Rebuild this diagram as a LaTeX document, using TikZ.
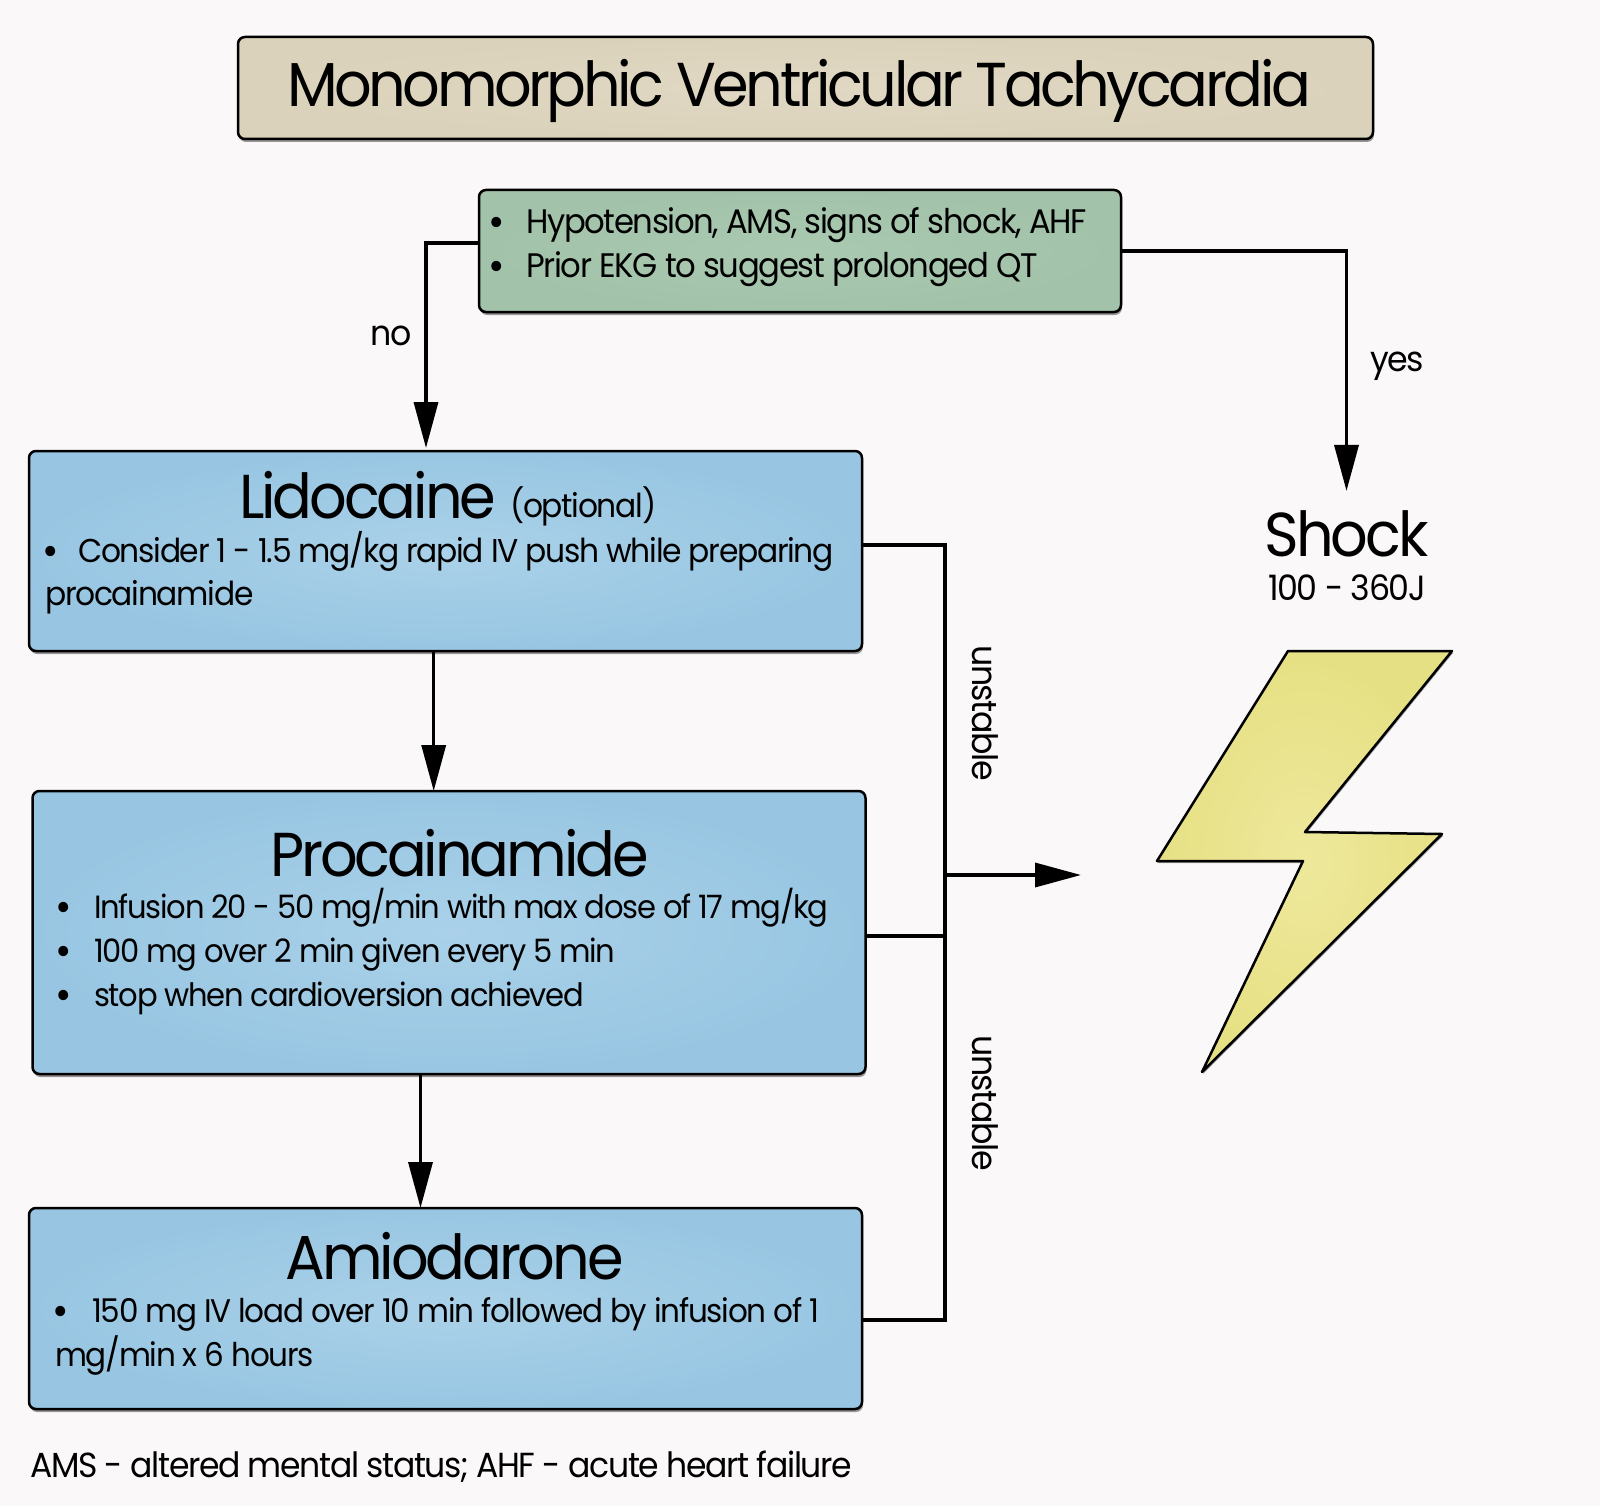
\documentclass[tikz,border=0pt]{standalone}
\usepackage{fontspec}
\usetikzlibrary{arrows.meta,shadows}
\setmainfont[LetterSpace=-4,FakeStretch=0.95]{Poppins}
\newfontfamily\headFont[LetterSpace=-5,FakeStretch=0.95]{Poppins}
\newfontfamily\titleFont[LetterSpace=-5.6,FakeStretch=0.95]{Poppins}
\definecolor{pageBg}{HTML}{FAF8F8}
\definecolor{boxBlueIn}{HTML}{AAD1E9}
\definecolor{boxBlueOut}{HTML}{98C6E2}
\definecolor{boxTanIn}{HTML}{E0D8C3}
\definecolor{boxTanOut}{HTML}{DAD2BA}
\definecolor{boxGreenIn}{HTML}{A9C9B1}
\definecolor{boxGreenOut}{HTML}{A2C2AA}
\definecolor{boltIn}{HTML}{EEE89C}
\definecolor{boltOut}{HTML}{E6E084}
\newcommand{\pBullet}[1]{\makebox[#1pt][l]{\raisebox{-3pt}{\hspace{-1.5pt}\fontsize{42}{42}\selectfont\textbullet}}}
\newcommand{\pSize}[1]{\fontsize{#1}{#1}\selectfont}
\tikzset{
  chartbox/.style={draw=black, line width=2.5pt, rounded corners=7pt, inner sep=0pt, outer sep=0pt,
    drop shadow={shadow xshift=1pt, shadow yshift=-3pt, fill=black, opacity=0.4}},
  bluebox/.style={chartbox, inner color=boxBlueIn, outer color=boxBlueOut},
  link/.style={draw=black, line width=3.5pt},
  arrowlink/.style={link, -{Triangle[length=46pt,width=24pt]}},
  headtext/.style={anchor=base, inner sep=0pt, font=\headFont\pSize{62}},
  linetext/.style={anchor=base west, inner sep=0pt, font=\pSize{33}},
  sidetext/.style={anchor=base west, inner sep=0pt, font=\pSize{35}, rotate=-90},
}
\begin{document}
\begin{tikzpicture}[x=1pt,y=-1pt]
\fill[pageBg] (0,0) rectangle (1600,1506);
\useasboundingbox (0,0) rectangle (1600,1506);
% boxes
\node[chartbox, inner color=boxTanIn, outer color=boxTanOut, minimum width=1135pt, minimum height=102pt] (title) at (805.5,88) {};
\node[chartbox, inner color=boxGreenIn, outer color=boxGreenOut, minimum width=642pt, minimum height=122pt] (check) at (800,251) {};
\node[bluebox, minimum width=833pt, minimum height=200pt] (lidocaine) at (445.5,551) {};
\node[bluebox, minimum width=833pt, minimum height=283pt] (procainamide) at (449,932.5) {};
\node[bluebox, minimum width=833pt, minimum height=201pt] (amiodarone) at (445.5,1308.5) {};
% texts
\node[headtext, font=\titleFont\pSize{62}] (titletext) at (799,107) {Monomorphic Ventricular Tachycardia};
\node[linetext, font=\pSize{34}] (checkA) at (490,234) {\pBullet{36}Hypotension, AMS, signs of shock, AHF};
\node[linetext, font=\pSize{34}] (checkB) at (490,277) {\pBullet{36}Prior EKG to suggest prolonged QT};
\node[headtext, anchor=base west] (lidoHead) at (239,518) {Lidocaine};
\node[linetext] (lidoNote) at (510,517) {(optional)};
\node[linetext] (lidoA) at (44,562) {\pBullet{34}Consider 1 - 1.5 mg/kg rapid IV push while preparing};
\node[linetext] (lidoB) at (45,605) {procainamide};
\node[headtext] (procHead) at (459.5,876) {Procainamide};
\node[linetext, font=\pSize{32.2}] (procA) at (57,918) {\pBullet{37}Infusion 20 - 50 mg/min with max dose of 17 mg/kg};
\node[linetext, font=\pSize{32.2}] (procB) at (57,962) {\pBullet{37}100 mg over 2 min given every 5 min};
\node[linetext, font=\pSize{32.2}] (procC) at (57,1006) {\pBullet{37}stop when cardioversion achieved};
\node[headtext] (amioHead) at (454.5,1279) {Amiodarone};
\node[linetext, font=\pSize{32.7}] (amioA) at (54,1322) {\pBullet{38}150 mg IV load over 10 min followed by infusion of 1};
\node[linetext, font=\pSize{32.7}] (amioB) at (55,1366) {mg/min x 6 hours};
\node[linetext, font=\pSize{34.8}] (footnote) at (30,1477) {AMS - altered mental status; AHF - acute heart failure};
\node[headtext] (shock) at (1346.5,556) {Shock};
\node[linetext, anchor=base, font=\pSize{35}] (dose) at (1347,600) {100 - 360J};
\node[linetext, font=\pSize{35}] (noLabel) at (370,345) {no};
\node[linetext, font=\pSize{35}] (yesLabel) at (1370,371) {yes};
\node[sidetext] (unstableA) at (972,645) {unstable};
\node[sidetext] (unstableB) at (972,1035) {unstable};
% bolt
\draw[draw=black, line width=2.5pt, line join=round, inner color=boltIn, outer color=boltOut,
  drop shadow={shadow xshift=1pt, shadow yshift=-2pt, fill=black, opacity=0.35}]
  (1288,651) -- (1452,651) -- (1305,832) -- (1442,834) -- (1202,1072) -- (1303,861) -- (1157,861) -- cycle;
% connectors
\coordinate (busTop) at (945,545);
\coordinate (busMid) at (945,875);
\coordinate (busLow) at (945,936);
\coordinate (busEnd) at (945,1320);
\coordinate (boltEntry) at (1081,875);
\draw[arrowlink, shorten >=3pt] ([yshift=8pt]check.west) -| ([xshift=-19.5pt]lidocaine.north);
\draw[arrowlink] (check.east) -| ([yshift=19pt]shock.north);
\draw[arrowlink] ([xshift=-11.8pt]lidocaine.south) -- ([xshift=-15.3pt]procainamide.north);
\draw[arrowlink] ([xshift=-28.5pt]procainamide.south) -- ([xshift=-25pt]amiodarone.north);
\draw[link] ([yshift=6pt]lidocaine.east) -- (busTop) -- (busEnd) -- ([yshift=-11.5pt]amiodarone.east);
\draw[link] ([yshift=-3.5pt]procainamide.east) -- (busLow);
\draw[arrowlink] (busMid) -- (boltEntry);
\end{tikzpicture}
\end{document}
